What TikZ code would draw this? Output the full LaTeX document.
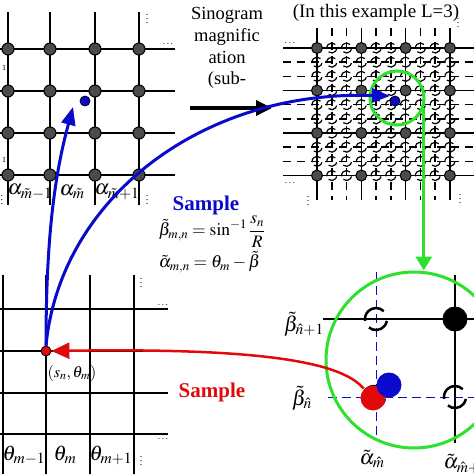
\documentclass[tikz,border=0pt]{standalone}
\usepackage{mathptmx}
\usepackage{fontspec}
\setmainfont{Liberation Serif}
\usetikzlibrary{arrows.meta}

\definecolor{gridgray}{RGB}{75,75,75}
\definecolor{zoomgreen}{RGB}{45,225,45}
\definecolor{sampblue}{RGB}{10,10,205}
\definecolor{sampred}{RGB}{225,10,10}

\begin{document}
\begin{tikzpicture}[x=1pt,y=-1pt,line width=1.6pt,
  bignode/.style={circle,draw=black,fill=gridgray,line width=1pt,inner sep=0pt,minimum size=12pt},
  dotnode/.style={circle,inner sep=0pt,minimum size=10pt},
  minorline/.style={dash pattern=on 8pt off 6pt},
  bluedash/.style={sampblue,line width=1pt,dash pattern=on 9pt off 5pt},
  lbl/.style={font=\fontsize{21}{24}\selectfont,inner sep=0pt},
  eqn/.style={font=\fontsize{17.5}{20}\selectfont,inner sep=0pt,anchor=west},
  dots/.style={font=\fontsize{10}{10}\selectfont,inner sep=0pt},
  bluearrow/.style={sampblue,line width=3pt,-{Triangle[length=18pt,width=14pt]}},
  redarrow/.style={sampred,line width=2.5pt,-{Triangle[length=18pt,width=16pt]}},
  greenarrow/.style={zoomgreen,line width=3pt,-{Triangle[length=14pt,width=16pt]}},
  zoomring/.style={circle,draw=zoomgreen,line width=3pt,inner sep=0pt}]
\useasboundingbox (0,0) rectangle (474,474);
\clip (0,0) rectangle (474,474);

\foreach \y in {49,91,133,175} \draw (0,\y) -- (175,\y);
\foreach \x in {8,50,95,139} \draw (\x,12) -- (\x,205);
\foreach \x in {8,50,95,139} \foreach \y in {49,91,133,175} \node[bignode] (tl\x-\y) at (\x,\y) {};
\node[dots] (tlda) at (147,16) {$\vdots$};
\node[dots] (tldb) at (147,197) {$\vdots$};
\node[dots] (tldc) at (2,197) {$\vdots$};
\node[dots] (tldd) at (168,44) {$\cdots$};
\node[font=\fontsize{8}{8}\selectfont] (tlone) at (4,68) {1};
\node[font=\fontsize{8}{8}\selectfont] (tltwo) at (4,160) {1};
\node[lbl] (aA) at (30,192) {$\alpha_{\tilde m-1}$};
\node[lbl] (aB) at (72,192) {$\alpha_{\tilde m}$};
\node[lbl] (aC) at (117,192) {$\alpha_{\tilde m+1}$};
\node[dotnode,draw=black,fill=sampblue,line width=0.8pt] (bdot) at (85,101) {};

\node[font=\fontsize{18.5}{21.7}\selectfont,align=center,inner sep=0pt] (sino) at (227,48) {Sinogram\\magnific\\ation\\(sub-};
\coordinate (arrA) at (190,108);
\coordinate (arrB) at (272,108);
\draw[line width=3.5pt,-{Triangle[length=16pt,width=15pt]}] (arrA) -- (arrB);
\node[font=\fontsize{19}{22}\selectfont,inner sep=0pt] (exmp) at (376,13) {(In this example L=3)};

\foreach \i in {0,...,9} {
  \pgfmathsetmacro\xx{317+14.77*\i}
  \pgfmathtruncatemacro\mj{mod(\i,3)==0}
  \ifnum\mj=1 \draw (\xx,28) -- (\xx,200); \else \draw[minorline] (\xx,28) -- (\xx,200); \fi
}
\foreach \j in {0,...,9} {
  \pgfmathsetmacro\yy{48+14.17*\j}
  \pgfmathtruncatemacro\mj{mod(\j,3)==0}
  \ifnum\mj=1 \draw (283,\yy) -- (474,\yy); \else \draw[minorline] (283,\yy) -- (474,\yy); \fi
}
\foreach \i in {0,...,9} \foreach \j in {0,...,9} {
  \pgfmathsetmacro\xx{317+14.77*\i}
  \pgfmathsetmacro\yy{48+14.17*\j}
  \pgfmathtruncatemacro\mj{and(mod(\i,3)==0,mod(\j,3)==0)}
  \ifnum\mj=1 \node[bignode,minimum size=11pt] (tr\i-\j) at (\xx,\yy) {};
  \else
    \draw[line width=1.2pt] (\xx,\yy) +(45:5pt) arc (45:190:5pt);
    \draw[line width=1.2pt] (\xx,\yy) +(230:5pt) arc (230:350:5pt);
  \fi
}
\node[dots] (trda) at (290,43) {$\cdots$};
\node[dots] (trdb) at (290,183) {$\cdots$};
\node[dots] (trdc) at (308,198) {$\vdots$};
\node[dots] (trdd) at (458,20) {$\vdots$};
\node[dots] (trde) at (460,196) {$\vdots$};
\node[dotnode,draw=black,fill=sampblue,line width=0.8pt] (bdotB) at (395,101) {};

\node[font=\fontsize{21}{24}\selectfont\bfseries,text=sampblue,inner sep=0pt] (smpB) at (206,205) {Sample};
\node[eqn] (eqA) at (158,232) {$\tilde\beta_{m,n} = \sin^{-1}\displaystyle\frac{s_n}{R}$};
\node[eqn] (eqB) at (158,262) {$\tilde\alpha_{m,n} = \theta_m - \tilde\beta$};

\foreach \y in {309,351,393,434} \draw (0,\y) -- (168,\y);
\foreach \x in {3,46,90,134} \draw (\x,275) -- (\x,474);
\node[dots] (bldaa) at (141,280) {$\vdots$};
\node[dots] (bldb) at (141,458) {$\vdots$};
\node[dots] (bldc) at (163,305) {$\cdots$};
\node[dots] (bldd) at (163,439) {$\cdots$};
\node[lbl] (tA) at (24,455) {$\theta_{m-1}$};
\node[lbl] (tB) at (65,455) {$\theta_{m}$};
\node[lbl] (tC) at (111,455) {$\theta_{m+1}$};
\node[dotnode,draw=black,fill=sampred,line width=0.8pt] (rdot) at (46,351) {};
\node[font=\fontsize{16}{18}\selectfont,inner sep=0pt] (snt) at (72,373) {$(s_n,\theta_m)$};
\node[font=\fontsize{21}{24}\selectfont\bfseries,text=sampred,inner sep=0pt] (smpR) at (212,392) {Sample};

\draw[bluedash] (376,272) -- (376,440);
\draw (455,275) -- (455,443);
\draw (323,319) -- (474,319);
\draw[bluedash] (328,397) -- (474,397);
\node[dotnode,fill=black,minimum size=25pt] (kdot) at (455,319) {};
\foreach \x/\y in {376/319,455/397,374/397} {
  \draw[line width=2.5pt] (\x,\y) +(45:11pt) arc (45:190:11pt);
  \draw[line width=2.5pt] (\x,\y) +(230:11pt) arc (230:350:11pt);
}
\node[dotnode,fill=sampred,minimum size=25pt] (rbig) at (373,398) {};
\node[dotnode,fill=sampblue,minimum size=25pt] (bbig) at (389,385) {};
\node[lbl] (bA) at (304,324) {$\tilde\beta_{\hat n+1}$};
\node[lbl] (bB) at (302,398) {$\tilde\beta_{\hat n}$};
\node[lbl] (cA) at (372,459) {$\tilde\alpha_{\hat m}$};
\node[lbl] (cB) at (466,464) {$\tilde\alpha_{\hat m+1}$};

\node[zoomring,minimum size=54pt] (zoomA) at (397,98) {};
\node[zoomring,minimum size=176pt] (zoomB) at (414,360) {};
\draw[greenarrow] (zoomA.-20) -- (zoomA.-20 |- zoomB.north);

\coordinate (tipA) at (73,107);
\coordinate (tipB) at (390,96);
\draw[bluearrow] (rdot.north) .. controls (46,230) and (56,170) .. (tipA);
\draw[bluearrow] (rdot.north) .. controls (60,200) and (200,90) .. (tipB);
\draw[redarrow] (rbig.north west) .. controls (340,360) and (250,348) .. (rdot.east);
\end{tikzpicture}
\end{document}
